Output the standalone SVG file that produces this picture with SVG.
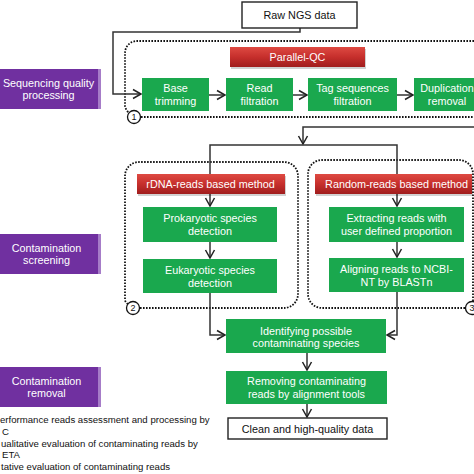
<svg xmlns="http://www.w3.org/2000/svg" width="474" height="474" viewBox="0 0 474 474">
<defs>
<linearGradient id="redg" x1="0" y1="0" x2="0" y2="1">
<stop offset="0" stop-color="#DE4A42"/>
<stop offset="0.5" stop-color="#C62F2C"/>
<stop offset="1" stop-color="#A01D1D"/>
</linearGradient>
<marker id="arr" markerUnits="userSpaceOnUse" markerWidth="12" markerHeight="12" viewBox="0 0 12 12" refX="10" refY="6" orient="auto">
<path d="M2,1.5 L10,6 L2,10.5" fill="none" stroke="#222" stroke-width="1.5"/>
</marker>
</defs>
<style>
text{font-family:"Liberation Sans",Arial,sans-serif;}
.g{fill:#1AA84E;}
.r{fill:url(#redg);}
.sh{fill:#000;opacity:0.18;}
.p{fill:#7030A0;}
.pe{fill:#A67CC8;}
.w{fill:#fff;stroke:#222;stroke-width:1.4;}
.t{font-size:10.8px;fill:#fff;text-anchor:middle;}
.k{font-size:10.8px;fill:#111;text-anchor:middle;}
.lg{font-size:9.6px;fill:#111;}
.ln{fill:none;stroke:#333;stroke-width:1.5;}
.dot{fill:none;stroke:#111;stroke-width:1.8;stroke-dasharray:1.6 1.4;}
.c{fill:#fff;stroke:#111;stroke-width:1.3;}
.cn{font-size:9px;fill:#111;text-anchor:middle;}
</style>

<g id="dotted-groups">
<path class="dot" d="M474,41 H137 A12,12 0 0 0 125,53 V106 A11,11 0 0 0 131,114"/>
<path class="dot" d="M141,117 H474"/>
<path class="dot" d="M140,308 H284 A14,14 0 0 0 298,294 V176 A14,14 0 0 0 284,162 H139 A14,14 0 0 0 125,176 V300 A6,6 0 0 0 128,304"/>
<path class="dot" d="M465,308 H322 A14,14 0 0 1 308,294 V174 A14,14 0 0 1 322,160 H459 A14,14 0 0 1 473,174 V301"/>
</g>

<g id="connectors">
<path class="ln" d="M300,28 V32 H113 V94 H141" marker-end="url(#arr)"/>
<path class="ln" d="M209,95 H225" marker-end="url(#arr)"/>
<path class="ln" d="M293,95 H307" marker-end="url(#arr)"/>
<path class="ln" d="M397,95 H413" marker-end="url(#arr)"/>
<path class="ln" d="M474,127 H303 V144" marker-end="url(#arr)"/>
<path class="ln" d="M210,174 V145 H397 V174"/>
<path class="ln" d="M210,194 V206" marker-end="url(#arr)"/>
<path class="ln" d="M210,242 V258" marker-end="url(#arr)"/>
<path class="ln" d="M210,293 V335 H225" marker-end="url(#arr)"/>
<path class="ln" d="M397,194 V206" marker-end="url(#arr)"/>
<path class="ln" d="M397,242 V257" marker-end="url(#arr)"/>
<path class="ln" d="M397,292 V335 H387" marker-end="url(#arr)"/>
<path class="ln" d="M307,353 V370" marker-end="url(#arr)"/>
<path class="ln" d="M307,404 V417" marker-end="url(#arr)"/>
</g>

<g id="raw-ngs"><rect class="w" x="242" y="2" width="115" height="26"/><text class="k" x="299.5" y="18.5">Raw NGS data</text></g>

<g id="parallel-qc"><rect class="sh" x="231" y="49" width="135" height="20"/><rect class="r" x="230" y="47" width="135" height="20"/><text class="t" x="297.5" y="61">Parallel-QC</text></g>

<g id="base-trimming"><rect class="g" x="142" y="78" width="67" height="33"/><text class="t" x="175.5" y="92">Base</text><text class="t" x="175.5" y="105">trimming</text></g>
<g id="read-filtration"><rect class="g" x="226" y="78" width="67" height="33"/><text class="t" x="259.5" y="92">Read</text><text class="t" x="259.5" y="105">filtration</text></g>
<g id="tag-filtration"><rect class="g" x="308" y="78" width="89" height="33"/><text class="t" x="352.5" y="92">Tag sequences</text><text class="t" x="352.5" y="105">filtration</text></g>
<g id="duplication-removal"><rect class="g" x="414" y="78" width="66" height="33"/><text class="t" x="447" y="92">Duplication</text><text class="t" x="447" y="105">removal</text></g>

<g id="rdna-method"><rect class="sh" x="138" y="176" width="148" height="20"/><rect class="r" x="137" y="174" width="148" height="20"/><text class="t" x="210.5" y="188">rDNA-reads based method</text></g>
<g id="random-method"><rect class="sh" x="316" y="176" width="157" height="20"/><rect class="r" x="315" y="174" width="157" height="20"/><text class="t" x="396.5" y="188">Random-reads based method</text></g>

<g id="prokaryotic"><rect class="g" x="143" y="207" width="134" height="35"/><text class="t" x="210" y="222">Prokaryotic species</text><text class="t" x="210" y="235">detection</text></g>
<g id="eukaryotic"><rect class="g" x="143" y="259" width="134" height="34"/><text class="t" x="210" y="273.5">Eukaryotic species</text><text class="t" x="210" y="286.5">detection</text></g>
<g id="extracting"><rect class="g" x="329" y="207" width="135" height="35"/><text class="t" x="396.5" y="222">Extracting reads with</text><text class="t" x="396.5" y="235">user defined proportion</text></g>
<g id="aligning"><rect class="g" x="329" y="258" width="135" height="34"/><text class="t" x="396.5" y="272.5">Aligning reads to NCBI-</text><text class="t" x="396.5" y="285.5">NT by BLASTn</text></g>

<g id="identifying"><rect class="g" x="226" y="319" width="160" height="34"/><text class="t" x="306" y="334.5">Identifying possible</text><text class="t" x="306" y="347">contaminating species</text></g>
<g id="removing"><rect class="g" x="226" y="371" width="161" height="33"/><text class="t" x="306.5" y="385">Removing contaminating</text><text class="t" x="306.5" y="398">reads by alignment tools</text></g>
<g id="clean-data"><rect class="w" x="228" y="418" width="159" height="21"/><text class="k" x="307.5" y="432.5">Clean and high-quality data</text></g>

<g id="circle-1"><circle class="c" cx="134" cy="117" r="6.5"/><text class="cn" x="134" y="120.3">1</text></g>
<g id="circle-2"><circle class="c" cx="133" cy="308" r="6.5"/><text class="cn" x="133" y="311.3">2</text></g>
<g id="circle-3"><circle class="c" cx="472" cy="308" r="6.5"/><text class="cn" x="472" y="311.3">3</text></g>

<g id="seq-quality"><rect class="p" x="0" y="69" width="101" height="40"/><rect class="pe" x="98" y="69" width="3" height="40"/><text class="t" x="48.5" y="87">Sequencing quality</text><text class="t" x="48.5" y="99">processing</text></g>
<g id="cont-screening"><rect class="p" x="0" y="234" width="101" height="40"/><rect class="pe" x="98" y="234" width="3" height="40"/><text class="t" x="46.5" y="252">Contamination</text><text class="t" x="46.5" y="264">screening</text></g>
<g id="cont-removal"><rect class="p" x="0" y="367" width="101" height="40"/><rect class="pe" x="98" y="367" width="3" height="40"/><text class="t" x="46.5" y="385">Contamination</text><text class="t" x="46.5" y="397">removal</text></g>

<g id="legend">
<text class="lg" x="0" y="423">erformance reads assessment and processing by</text>
<text class="lg" x="2" y="435">C</text>
<text class="lg" x="1" y="447">ualitative evaluation of contaminating reads by</text>
<text class="lg" x="2" y="458">ETA</text>
<text class="lg" x="1" y="470">tative evaluation of contaminating reads</text>
</g>
</svg>
